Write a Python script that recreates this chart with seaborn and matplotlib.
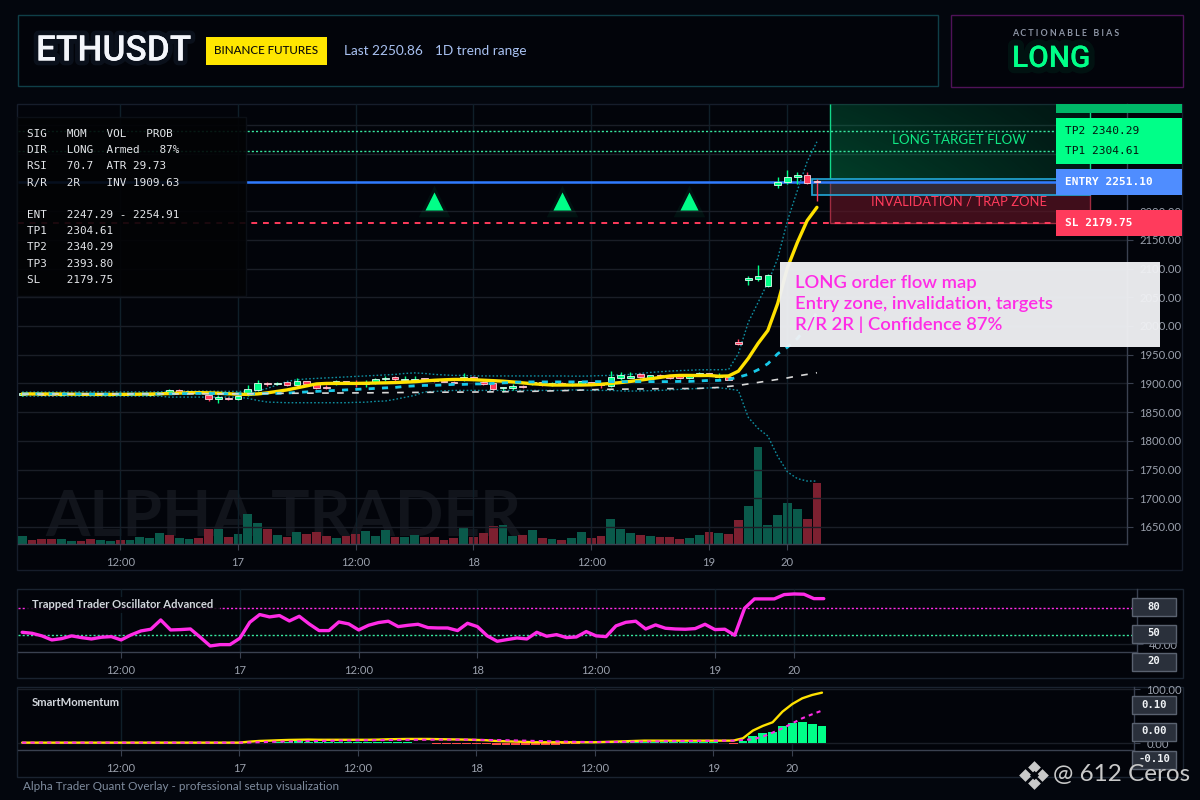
import numpy as np
import matplotlib
matplotlib.use('Agg')
import matplotlib.pyplot as plt
import matplotlib.patheffects as pe
from matplotlib.patches import Rectangle
import seaborn as sns

bars = np.arange(82)
tick_pos = [10, 22, 34, 46, 58, 70, 78]
tick_labels = ['12:00', '17', '12:00', '18', '12:00', '19', '20']
price_ticks = list(range(1650, 2351, 50))

opens = [1880.2,1883.2,1883.0,1882.6,1880.0,1881.0,1882.8,1882.7,1880.5,1881.2,
         1883.4,1880.8,1881.0,1880.6,1881.5,1884.2,1888.3,1882.5,1886.0,1880.3,
         1873.0,1874.8,1872.2,1879.1,1888.3,1900.5,1898.8,1901.7,1897.0,1904.0,
         1899.5,1893.9,1898.3,1904.0,1903.0,1898.3,1900.5,1907.0,1911.0,1905.7,
         1905.2,1908.7,1906.0,1904.3,1902.6,1905.7,1911.7,1903.0,1900.0,1891.3,
         1892.5,1894.8,1898.3,1901.7,1898.3,1900.5,1896.5,1898.8,1901.7,1898.3,
         1894.8,1909.2,1909.9,1916.9,1907.5,1914.4,1913.4,1912.2,1909.2,1914.4,
         1917.4,1911.0,1911.7,1971.8,2080.9,2082.6,2069.2,2244.8,2250.0,2258.8,
         2262.2,2251.6]
closes = [1883.5,1881.0,1880.5,1880.0,1883.2,1883.0,1880.4,1881.0,1882.9,1883.3,
          1881.0,1883.0,1883.5,1882.8,1884.0,1888.0,1883.8,1886.0,1883.0,1872.2,
          1875.6,1872.2,1877.9,1889.6,1901.2,1898.3,1901.2,1896.5,1904.0,1899.5,
          1891.8,1892.2,1904.0,1901.2,1898.3,1900.5,1907.5,1909.9,1907.0,1907.5,
          1907.0,1907.0,1904.3,1902.6,1900.9,1911.7,1906.4,1898.3,1890.1,1893.0,
          1894.8,1893.6,1901.7,1897.0,1900.0,1898.3,1899.1,1903.5,1899.1,1896.5,
          1910.4,1915.1,1912.2,1910.4,1914.4,1910.4,1909.9,1909.2,1912.2,1917.4,
          1913.9,1913.4,1906.4,1969.0,2084.3,2087.3,2089.6,2251.3,2259.5,2263.5,
          2248.3,2250.9]
highs = [1884.3,1883.8,1883.6,1883.2,1884.0,1883.6,1883.3,1883.2,1883.8,1884.0,
         1884.0,1883.6,1884.2,1883.6,1885.0,1890.8,1889.6,1887.0,1886.5,1881.7,
         1879.1,1876.5,1879.1,1896.5,1905.2,1902.3,1902.0,1902.6,1909.9,1905.0,
         1900.9,1896.5,1905.2,1904.8,1905.2,1905.2,1908.7,1913.4,1912.2,1912.2,
         1912.2,1910.0,1907.5,1905.2,1903.5,1917.4,1913.0,1903.5,1901.2,1894.3,
         1898.3,1897.0,1904.0,1903.0,1901.7,1903.0,1904.0,1904.7,1903.0,1898.8,
         1920.9,1919.1,1920.3,1917.4,1915.0,1915.7,1913.9,1912.8,1913.0,1919.1,
         1918.3,1917.4,1912.2,1977.7,2087.8,2106.9,2091.3,2260.0,2271.6,2268.7,
         2268.7,2256.0]
lows = [1878.3,1880.0,1879.1,1877.5,1878.5,1879.5,1879.5,1880.0,1879.0,1877.8,
        1880.2,1879.8,1880.0,1877.4,1880.5,1883.0,1883.0,1881.5,1882.0,1869.2,
        1865.7,1870.4,1870.4,1877.4,1886.6,1895.3,1898.0,1894.8,1896.5,1898.3,
        1890.4,1889.6,1897.4,1900.0,1893.6,1893.6,1898.3,1904.0,1904.0,1901.7,
        1902.3,1905.5,1903.0,1901.7,1899.0,1903.5,1905.2,1897.0,1888.3,1885.6,
        1888.3,1891.3,1897.0,1895.7,1895.7,1897.0,1894.8,1897.0,1898.0,1891.3,
        1894.0,1906.4,1909.2,1909.6,1906.4,1909.0,1907.5,1908.3,1908.3,1913.0,
        1912.7,1910.0,1905.7,1967.3,2072.2,2079.1,2067.8,2240.3,2247.3,2247.3,
        2246.7,2218.2]

volume = [24,12,15,15,15,9,9,15,12,9,
          12,12,21,18,33,27,18,15,18,45,
          45,21,30,90,63,45,27,21,36,30,
          36,24,18,24,30,39,24,42,21,21,
          27,21,21,12,18,51,21,33,54,57,
          24,27,42,18,15,12,18,36,18,24,
          75,45,33,27,24,21,21,15,18,27,
          36,33,30,72,114,291,57,87,123,105,
          75,183]
vol_side = ['g','r','r','r','g','g','r','r','g','g',
            'r','g','g','g','g','r','g','g','r','r',
            'g','r','g','g','g','r','g','r','g','r',
            'r','r','g','r','r','g','g','g','r','g',
            'g','r','r','r','r','g','r','r','r','g',
            'g','r','g','r','g','r','g','g','r','r',
            'g','g','g','r','g','r','r','r','g','g',
            'r','g','r','r','g','g','g','g','g','g',
            'r','r']

ema_fast = [1881.7,1881.7,1881.6,1881.6,1881.5,1881.3,1881.1,1880.9,1880.9,1880.9,
            1881.0,1881.0,1881.2,1881.5,1881.9,1882.4,1883.1,1883.6,1884.0,1883.6,
            1882.9,1882.0,1881.2,1880.9,1881.7,1883.6,1886.1,1888.7,1892.2,1895.7,
            1899.1,1900.0,1900.0,1900.0,1900.0,1900.3,1900.7,1901.0,1901.5,1902.2,
            1903.0,1904.3,1905.5,1906.3,1906.9,1906.9,1906.4,1905.6,1904.8,1903.9,
            1902.6,1901.0,1899.4,1898.3,1897.2,1897.2,1897.2,1897.2,1897.6,1898.6,
            1900.0,1901.5,1903.5,1905.8,1908.0,1910.4,1913.0,1913.9,1913.9,1913.7,
            1913.9,1912.5,1913.0,1921.4,1943.5,1969.6,1992.2,2039.1,2101.7,2145.2,
            2183.4,2206.6]
ema_mid = [1881.7,1881.8,1881.8,1881.7,1881.6,1881.5,1881.4,1881.3,1881.2,1881.2,
           1881.2,1881.3,1881.4,1881.5,1881.7,1881.9,1882.1,1882.4,1882.6,1882.5,
           1882.3,1882.1,1881.9,1881.8,1881.9,1882.6,1882.6,1883.3,1884.3,1885.2,
           1886.1,1887.0,1887.8,1888.7,1889.6,1890.4,1891.3,1892.2,1893.0,1894.8,
           1895.7,1896.5,1896.5,1897.4,1898.3,1898.3,1899.1,1899.1,1900.0,1900.9,
           1901.7,1902.6,1902.6,1902.6,1902.6,1902.6,1902.6,1902.6,1903.1,1903.1,
           1903.1,1903.1,1903.1,1903.1,1903.1,1903.1,1903.1,1903.5,1903.5,1904.3,
           1905.2,1905.2,1907.0,1911.0,1915.7,1923.8,1934.3,1951.6,1963.1,1978.0,
           1999.0,2023.0]
ema_slow = [1881.5,1881.5,1881.5,1881.6,1881.6,1881.6,1881.6,1881.6,1881.6,1881.6,
            1881.6,1881.6,1881.7,1881.7,1881.7,1881.7,1881.7,1881.8,1881.8,1881.8,
            1881.8,1881.8,1881.8,1881.8,1881.9,1882.6,1882.7,1882.8,1882.9,1883.0,
            1883.1,1883.2,1883.3,1883.4,1883.5,1883.6,1883.7,1883.9,1884.0,1884.2,
            1884.3,1884.5,1884.6,1884.7,1884.8,1884.9,1885.0,1885.1,1885.3,1885.5,
            1885.7,1885.9,1886.2,1886.6,1887.0,1887.4,1887.8,1888.4,1889.0,1889.4,
            1889.8,1890.0,1890.2,1890.4,1890.6,1890.8,1890.9,1891.0,1891.1,1891.3,
            1892.2,1893.0,1894.8,1896.5,1899.1,1901.7,1904.3,1907.0,1909.6,1913.0,
            1915.7,1918.6]
band_upper = [1884.9,1884.9,1884.9,1884.9,1884.9,1884.9,1885.2,1885.2,1885.2,1885.2,
              1885.2,1885.2,1885.2,1885.2,1885.2,1886.6,1886.6,1886.6,1886.6,1886.6,
              1886.1,1886.1,1886.1,1886.1,1887.0,1891.3,1897.4,1903.5,1906.4,1907.8,
              1908.7,1909.6,1910.4,1911.3,1912.2,1913.0,1913.9,1914.8,1915.7,1917.4,
              1918.3,1917.4,1915.7,1914.8,1913.9,1913.9,1913.0,1913.0,1913.0,1913.0,
              1913.0,1913.0,1913.0,1913.0,1913.0,1913.0,1912.7,1912.7,1913.0,1913.6,
              1913.9,1914.8,1915.7,1917.4,1919.1,1920.3,1921.4,1922.3,1923.0,1923.7,
              1923.8,1923.8,1924.3,1952.2,2006.1,2040.9,2075.6,2117.4,2183.5,2235.6,
              2286.0,2320.8]
band_lower = [1877.9,1877.9,1877.9,1877.9,1877.9,1877.9,1877.9,1877.9,1877.9,1877.9,
              1877.9,1877.9,1877.9,1877.9,1877.9,1876.2,1876.2,1876.2,1876.2,1876.2,
              1876.2,1876.2,1876.2,1873.9,1870.4,1867.5,1867.0,1866.4,1866.4,1866.4,
              1866.4,1866.4,1866.4,1866.4,1867.0,1867.3,1868.7,1869.3,1872.2,1875.7,
              1879.1,1885.2,1886.1,1887.0,1887.8,1887.8,1887.8,1887.8,1887.8,1887.8,
              1887.8,1887.8,1887.8,1887.8,1887.8,1887.8,1888.7,1888.7,1887.8,1887.8,
              1887.8,1887.0,1886.6,1887.0,1887.4,1887.8,1888.7,1889.6,1890.4,1891.3,
              1892.2,1892.5,1890.4,1887.8,1840.9,1821.7,1808.4,1773.0,1745.8,1734.3,
              1730.0,1730.0]

osc = [53.3,52.2,49.3,44.8,46.3,49.3,47.4,45.9,47.8,48.5,
       44.8,50.4,54.8,56.7,67.0,55.9,56.3,57.0,47.8,38.1,
       39.6,39.6,46.7,64.4,73.0,70.4,71.9,65.9,71.1,62.6,
       55.2,55.2,64.8,62.6,55.9,61.1,64.1,65.6,59.6,61.1,
       62.2,58.5,58.1,58.1,55.2,63.3,59.6,49.3,43.3,45.2,
       47.0,45.9,53.3,48.9,50.7,47.4,48.1,54.1,49.3,48.5,
       60.4,64.4,65.6,57.0,61.5,57.8,57.0,56.7,57.4,62.2,
       56.3,56.7,50.0,80.0,90.4,90.4,90.4,95.2,95.9,95.6,
       90.7,90.7]

mom_line = [1.2,1.2,1.2,1.2,1.2,1.2,1.2,1.2,1.2,1.2,
            1.2,1.2,1.2,1.2,1.2,1.2,1.2,1.2,1.2,1.2,
            1.2,1.2,1.2,3.0,4.3,4.9,5.6,6.2,6.5,6.8,
            6.5,6.5,6.5,6.5,6.5,6.5,6.8,7.4,7.7,8.0,
            8.0,8.0,7.7,7.4,7.1,6.8,6.2,5.6,4.3,3.7,
            3.1,2.5,1.9,1.9,1.9,1.9,1.9,1.9,1.9,2.5,
            3.1,3.7,4.3,4.9,4.9,4.9,4.9,4.9,4.9,4.9,
            4.9,4.9,4.9,9.3,23.5,32.1,38.9,58.6,72.8,83.3,
            89.5,93.8]
mom_signal = [1.2,1.2,1.2,1.2,1.2,1.2,1.2,1.2,1.2,1.2,
              1.2,1.2,1.2,1.2,1.2,1.2,1.2,1.2,1.2,1.2,
              1.2,1.2,1.2,1.5,2.0,2.6,3.0,3.4,3.7,4.0,
              4.3,4.6,4.9,5.2,5.5,5.6,5.8,6.0,6.2,6.4,
              6.5,6.6,6.8,6.8,6.8,6.8,6.5,6.2,5.9,5.6,
              5.2,4.8,4.3,3.9,3.4,3.0,2.7,2.5,2.4,2.4,
              2.5,2.7,3.0,3.3,3.5,3.7,3.9,4.1,4.3,4.5,
              4.6,4.8,4.9,6.2,7.4,12.3,19.8,27.8,37.0,46.3,
              53.7,60.5]
mom_hist = [0.2,0.2,0.2,0.2,0.2,0.2,0.2,0.2,0.2,0.2,
            0.2,0.2,0.2,0.2,0.2,0.2,0.2,0.2,0.2,0.2,
            0.2,0.2,0.3,0.5,0.8,1.2,2.0,3.0,3.5,3.0,
            3.0,3.0,3.0,3.0,3.0,3.0,2.5,2.0,2.0,1.5,
            1.0,-0.4,-0.6,-0.6,-0.6,-0.6,-0.6,-0.8,-2.5,-2.5,
            -2.5,-2.5,-2.5,-2.5,-2.5,-2.0,-0.8,0.4,0.5,0.6,
            1.5,2.5,2.5,2.5,2.5,2.5,2.5,2.5,2.5,2.5,
            1.5,0.6,-0.6,4.9,13.6,18.5,21.0,32.0,37.0,39.5,
            35.8,32.0]

signal_bars = [42, 55, 68]
signal_price = 2217.8
tp1, tp2, entry, sl = 2304.61, 2340.29, 2251.10, 2179.75

GREEN = '#00ff88'
RED = '#ff3b5c'
MAGENTA = '#ff2be6'
YELLOW = '#ffe100'
CYAN = '#18c8e8'
BG = '#02040a'
XLIM = (-0.42, 112.6)
W, H = 1200, 800

sns.set_theme(style='dark')
plt.rcParams['font.family'] = ['Lato', 'DejaVu Sans']
MONO = 'DejaVu Sans Mono'

fig = plt.figure(figsize=(12, 8), dpi=100, facecolor='#03060d')


def add_ax(x0, y0, x1, y1, z=2):
    a = fig.add_axes([x0 / W, 1 - y1 / H, (x1 - x0) / W, (y1 - y0) / H])
    a.set_zorder(z)
    a.patch.set_visible(False)
    return a


def style_axis(a):
    a.yaxis.tick_right()
    a.set_xticks(tick_pos, tick_labels)
    a.tick_params(colors='#9aa0ac', labelsize=8.1, length=4, width=0.8, pad=5,
                  color='#39404f', bottom=True, right=True)
    for s in ['top', 'left']:
        a.spines[s].set_visible(False)
    for s in ['bottom', 'right']:
        a.spines[s].set_color('#3a4150')
        a.spines[s].set_linewidth(1)
    a.grid(True, axis='x', color='#0f1f29', lw=1)
    a.grid(True, axis='y', color='#1a1e27', lw=1)
    a.set_axisbelow(True)
    a.set_xlabel('')
    a.set_ylabel('')


# backdrop panels
bg = add_ax(0, 0, W, H, z=0)
bg.set_xlim(0, W)
bg.set_ylim(H, 0)
bg.axis('off')
for x0, y0, x1, y1, ec in [(18, 15, 938, 86, '#0f3f48'), (951, 15, 1183, 87, '#4f1258'),
                           (17, 104, 1182, 570, '#161d2b'), (17, 589, 1183, 678, '#1a2330'),
                           (17, 687, 1183, 777, '#1a2330')]:
    bg.add_patch(Rectangle((x0, y0), x1 - x0, y1 - y0, fc=BG, ec=ec, lw=1))

# main price panel
ax = add_ax(18, 104, 1127, 544, z=2)
vax = add_ax(18, 104, 1127, 544, z=1)

sns.barplot(x=bars, y=volume, hue=vol_side, palette={'g': '#0a5a4b', 'r': '#7c2030'}, native_scale=True,
            dodge=False, width=0.9, saturation=1, errorbar=None, legend=False, orient='x', ax=vax,
            linewidth=0, edgecolor='none')
vax.set_xlim(*XLIM)
vax.set_ylim(0, 1320)
vax.axis('off')

style_axis(ax)
ax.set_yticks(price_ticks)
ax.set_yticklabels([f'{p:.2f}' if p <= 2200 else '' for p in price_ticks])

# target and trap zones
zone = np.zeros((80, 200, 4))
zone[..., 1] = 0.78
zone[..., 2] = 0.44
zone[..., 3] = (0.30 - 0.17 * np.linspace(0, 1, 200)[None, :]) * np.linspace(0.7, 1, 80)[:, None]
ax.imshow(zone, extent=(82.3, 108.8, 2256, 2386.5), aspect='auto', origin='upper', zorder=1)
ax.vlines(82.3, 2256, 2386.5, color='#12d88a', lw=1, zorder=2)
ax.vlines(108.8, 2256, 2386.5, color='#12d88a', lw=1, zorder=2)
ax.add_patch(Rectangle((82.3, sl), 26.5, entry - 3 - sl, fc='#5e1424', alpha=0.68, ec='none', zorder=1))
ax.add_patch(Rectangle((82.3, sl), 26.5, entry - sl, fc='none', ec='#a02c40', lw=1, zorder=2))
ax.add_patch(Rectangle((80.5, 2228), 28.3, 28, fc='#17606e', alpha=0.35, ec='none', zorder=2))
ax.add_patch(Rectangle((80.5, 2228), 28.3, 28, fc='none', ec='#22a8d8', lw=1.2, zorder=3))

# levels
ax.hlines([tp1, tp2], -0.42, 105.5, color='#38e8a0', lw=1, linestyles=(0, (1.5, 1.5)), zorder=3)
ax.hlines(entry, -0.42, 105.5, color='#2f7bff', lw=1.8, zorder=3)
ax.hlines(sl, -0.42, 105.5, color=RED, lw=1.4, linestyles=(0, (3, 3)), zorder=3)

# bands and averages
sns.lineplot(x=bars, y=band_upper, color='#0f8ea0', lw=1, linestyle=(0, (1.2, 1.5)), errorbar=None, ax=ax, zorder=4)
sns.lineplot(x=bars, y=band_lower, color='#0f8ea0', lw=1, linestyle=(0, (1.2, 1.5)), errorbar=None, ax=ax, zorder=4)
sns.lineplot(x=bars, y=ema_fast, color=YELLOW, lw=2.4, errorbar=None, ax=ax, zorder=6)
sns.lineplot(x=bars, y=ema_mid, color=CYAN, lw=2, linestyle=(0, (2.2, 2.6)), errorbar=None, ax=ax, zorder=7)
sns.lineplot(x=bars, y=ema_slow, color='#d8d8d8', lw=1.2, linestyle=(0, (4, 5)), errorbar=None, ax=ax, zorder=8)

# candles
up = np.array(closes) >= np.array(opens)
wick_col = np.where(up, GREEN, RED)
ax.vlines(bars, lows, highs, colors=wick_col, lw=1, zorder=5)
ax.bar(bars, np.abs(np.array(closes) - np.array(opens)), bottom=np.minimum(opens, closes), width=0.68,
       color=wick_col, edgecolor=np.where(up, '#dffff0', '#ffd6e0'), lw=0.6, zorder=5)

# signal triangles
sns.scatterplot(x=signal_bars, y=[signal_price] * 3, marker='^', s=520, color=GREEN, alpha=0.06, linewidth=0, ax=ax, zorder=6)
sns.scatterplot(x=signal_bars, y=[signal_price] * 3, marker='^', s=170, color=GREEN, linewidth=0, ax=ax, zorder=7)
ax.set_xlim(*XLIM)
ax.set_ylim(1620.4, 2386.5)
ax.set_xlabel('')
ax.set_ylabel('')

# oscillator panel
oax = add_ax(18, 589, 1136.5, 652, z=2)
style_axis(oax)
sns.lineplot(x=bars, y=osc, color=MAGENTA, lw=2.4, errorbar=None, ax=oax, zorder=5)
oax.hlines(80, -0.42, 112.6, color=MAGENTA, lw=1, linestyles=(0, (1.5, 1.5)), zorder=3)
oax.hlines(50, -0.42, 112.6, color='#38e8a0', lw=1, linestyles=(0, (1.5, 1.5)), zorder=3)
oax.set_yticks([40])
oax.set_yticklabels(['40.00'])
oax.set_xlim(*XLIM)
oax.set_ylim(31.4, 101.4)
oax.set_xlabel('')
oax.set_ylabel('')

# momentum panel
max_ = add_ax(18, 687.3, 1134, 750.3, z=2)
style_axis(max_)
hist_side = ['up' if v >= 0 else 'down' for v in mom_hist]
sns.barplot(x=bars, y=mom_hist, hue=hist_side, palette={'up': GREEN, 'down': '#ff4a4a'}, native_scale=True,
            dodge=False, width=0.9, saturation=1, errorbar=None, legend=False, orient='x', ax=max_, zorder=3,
            linewidth=0, edgecolor='none')
sns.lineplot(x=bars, y=mom_line, color=YELLOW, lw=1.7, errorbar=None, ax=max_, zorder=5)
sns.lineplot(x=bars, y=mom_signal, color=MAGENTA, lw=1.5, linestyle=(0, (2, 2)), errorbar=None, ax=max_, zorder=6)
max_.set_xticks(tick_pos, tick_labels)
max_.set_yticks([0, 100])
max_.set_yticklabels(['0.00', '100.00'])
max_.set_xlim(*XLIM)
max_.set_ylim(-13, 103.7)
max_.set_xlabel('')
max_.set_ylabel('')

# front layer: cards, badges, headings
ov = add_ax(0, 0, W, H, z=10)
ov.set_xlim(0, W)
ov.set_ylim(H, 0)
ov.axis('off')


def box(x0, y0, x1, y1, fc, ec='none', alpha=1.0, lw=1):
    ov.add_patch(Rectangle((x0, y0), x1 - x0, y1 - y0, fc=fc, ec=ec, alpha=alpha, lw=lw))


vax.text(45, 517, 'ALPHA TRADER', transform=ov.transData, fontsize=46, fontweight='bold',
         color='#11141b', va='center', clip_on=True, zorder=0)

box(17, 117, 246, 296, '#020305', ec='#0d1118', alpha=0.9)
info_rows = [(134, 'SIG   MOM   VOL   PROB'), (150, 'DIR   LONG  Armed   87%'), (166, 'RSI   70.7  ATR 29.73'),
             (183, 'R/R   2R    INV 1909.63'), (215, 'ENT   2247.29 - 2254.91'), (231, 'TP1   2304.61'),
             (247, 'TP2   2340.29'), (264, 'TP3   2393.80'), (280, 'SL    2179.75')]
for y, row in info_rows:
    ov.text(27, y, row, family=MONO, fontsize=7.9, color='#e4e6ea', va='center')

glow = [pe.withStroke(linewidth=7, foreground='#7fb8ff', alpha=0.07), pe.Normal()]
ov.text(36, 51, 'ETHUSDT', fontsize=25.4, family='Roboto', fontweight='medium', color='#f4f6fb', va='center', path_effects=glow)
box(206, 37, 327, 65, '#ffe600')
ov.text(266.5, 51, 'BINANCE FUTURES', fontsize=8.4, fontweight='medium', color='#0a0a0a', ha='center', va='center')
ov.text(344, 51, 'Last 2250.86', fontsize=9.8, color='#a9c2f2', va='center')
ov.text(435, 51, '1D trend range', fontsize=9.8, color='#a9c2f2', va='center')
ov.text(1066, 34, 'A C T I O N A B L E   B I A S', fontsize=6.4, color='#8d95a5', ha='center', va='center', fontweight='bold')
ov.text(1012, 59, 'LONG', fontsize=21.5, family='Roboto', fontweight='medium', color=GREEN, va='center',
        path_effects=[pe.withStroke(linewidth=9, foreground=GREEN, alpha=0.06), pe.Normal()])

ov.text(959, 140, 'LONG TARGET FLOW', fontsize=9.6, color='#10e884', ha='center', va='center')
ov.text(959, 202, 'INVALIDATION / TRAP ZONE', fontsize=9.4, color=RED, ha='center', va='center')

box(1056, 104, 1182, 113, '#00b868')
box(1056, 118, 1182, 164, GREEN)
ov.text(1065, 131, 'TP2 2340.29', family=MONO, fontsize=8, color='#04150d', va='center')
ov.text(1065, 151, 'TP1 2304.61', family=MONO, fontsize=8, color='#04150d', va='center')
box(1056, 169, 1182, 195, '#4f8dff')
ov.text(1065, 182, 'ENTRY 2251.10', family=MONO, fontsize=8, fontweight='bold', color='white', va='center')
box(1056, 210, 1182, 236, RED)
ov.text(1065, 223, 'SL 2179.75', family=MONO, fontsize=8, fontweight='bold', color='white', va='center')

box(780, 262, 1160, 347, '#f0f1f4', alpha=0.96)
for y, row in [(283, 'LONG order flow map'), (304, 'Entry zone, invalidation, targets'), (325, 'R/R 2R | Confidence 87%')]:
    ov.text(795, y, row, fontsize=13.2, color='#ff2be6', va='center', fontweight='semibold')

for y0, lab in [(597.5, '80'), (624.5, '50'), (652.5, '20'), (695.5, '0.10'), (722.5, '0.00'), (750.5, '-0.10')]:
    box(1132, y0, 1176, y0 + 18, '#2a303b', ec='#5a6270')
    ov.text(1154, y0 + 9, lab, family=MONO, fontsize=7.7, fontweight='bold', color='#f0f3f6', ha='center', va='center')

box(26, 597, 220, 613, BG, alpha=0.85)
ov.text(32, 605, 'Trapped Trader Oscillator Advanced', fontsize=8.1, fontweight='bold', color='#d2d6dc', va='center')
ov.text(32, 703, 'SmartMomentum', fontsize=8.1, fontweight='bold', color='#d2d6dc', va='center')
ov.text(23, 787, 'Alpha Trader Quant Overlay - professional setup visualization', fontsize=8.35, color='#7f8c9e', va='center')

ov.text(1053, 775, '@ 612 Ceros', fontsize=17.5, color='#c9c9c9', va='center')
ov.scatter([1033.5, 1025, 1042, 1033.5], [767, 775, 775, 783], marker='D', s=42, color='#c9c9c9', linewidth=0)
ov.scatter([1033.5], [775], marker='D', s=22, color='#03060d', linewidth=0)

fig.savefig('out.png', dpi=100, facecolor=fig.get_facecolor())
